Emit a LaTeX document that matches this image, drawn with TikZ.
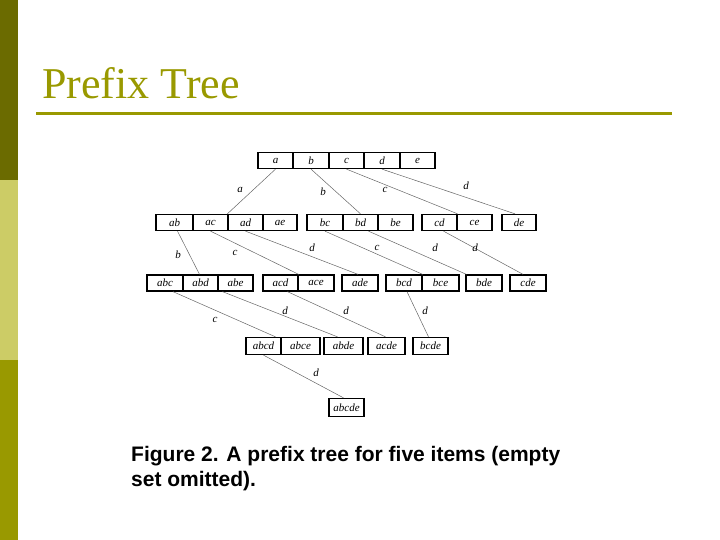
\documentclass[tikz,border=0pt]{standalone}
\usepackage{fontspec}
\newfontfamily\capfont{Liberation Sans}
\newfontfamily\serifx{Liberation Serif}
\usetikzlibrary{calc}
\definecolor{oliveA}{HTML}{6B6B00}
\definecolor{oliveB}{HTML}{CCCC66}
\definecolor{oliveC}{HTML}{999900}
\begin{document}
\begin{tikzpicture}[x=1pt,y=-1pt,
 cell/.style={draw=black,line width=1.3pt,inner sep=0pt,minimum height=16pt,font=\serifx\itshape\fontsize{11}{11}\selectfont},
 edge/.style={draw=black!60,line width=0.5pt},
 lab/.style={font=\serifx\itshape\fontsize{11}{11}\selectfont,inner sep=0pt}]
\useasboundingbox (0,0) rectangle (720,540);
\fill[oliveA] (0,0) rectangle (18,180);
\fill[oliveB] (0,180) rectangle (18,360);
\fill[oliveC] (0,360) rectangle (18,540);
\node[anchor=base west,inner sep=0pt,text=oliveC,font=\serifx\fontsize{44}{44}\selectfont] (title) at (42,99) {Prefix Tree};
\draw[oliveC,line width=3pt] (36,114) -- (672,114);
% level 1
\foreach \n/\l/\r in {a/258/293,b/293/329,c/329/364,d/364/400,e/400/435}
  \node[cell,minimum width={\r-\l}] (\n) at ({(\l+\r)/2},160.5) {\n};
% level 2
\foreach \n/\l/\r in {ab/156/193,ac/193/228,ad/228/263,ae/263/297,bc/307/343,bd/343/378,be/378/413,cd/422/457,ce/457/492,de/502/536}
  \node[cell,minimum width={\r-\l}] (\n) at ({(\l+\r)/2},222.5) {\n};
% level 3
\foreach \n/\l/\r in {abc/147/183,abd/183/218,abe/218/253,acd/263/298,ace/298/334,ade/342/378,bcd/386/422,bce/422/459,bde/466/502,cde/510/546}
  \node[cell,minimum width={\r-\l}] (\n) at ({(\l+\r)/2},283) {\n};
% level 4
\foreach \n/\l/\r in {abcd/246/281,abce/281/320,abde/324/363,acde/368/405,bcde/413/448}
  \node[cell,minimum width={\r-\l},minimum height=17pt] (\n) at ({(\l+\r)/2},346) {\n};
\node[cell,minimum width=35pt,minimum height=18pt] (abcde) at (346.5,407.5) {abcde};
% edges
\draw[edge] (a.south) -- (ad.north west);
\draw[edge] (b.south) -- (bd.north);
\draw[edge] (c.south) -- (cd.north east);
\draw[edge] (d.south) -- ($(de.north)+(-4,0)$);
\draw[edge] ($(ab.south)+(3,0)$) -- ($(abd.north)+(-1,0)$);
\draw[edge] (ac.south) -- (acd.north east);
\draw[edge] (ad.south) -- ($(ade.north)+(-2,0)$);
\draw[edge] (bc.south) -- (bcd.north east);
\draw[edge] ($(bd.south)+(8,0)$) -- ($(bde.north west)+(1,0)$);
\draw[edge] ($(cd.south)+(4,0)$) -- ($(cde.north)+(-5,0)$);
\draw[edge] ($(abc.south)+(8,0)$) -- ($(abcd.north)+(12,0)$);
\draw[edge] ($(abd.south)+(22,0)$) -- ($(abde.north)+(-6,0)$);
\draw[edge] ($(acd.south)+(7,0)$) -- ($(acde.north)+(-1,0)$);
\draw[edge] ($(bcd.south)+(3,0)$) -- ($(bcde.north)+(-2,0)$);
\draw[edge] ($(abcd.south)+(0,0)$) -- ($(abcde.north)+(-3,0)$);
% labels
\node[lab] (la) at (240,190) {a};
\node[lab] (lb) at (323,192) {b};
\node[lab] (lc) at (385,190) {c};
\node[lab] (ld) at (466,186) {d};
\node[lab] (lab2) at (178,255) {b};
\node[lab] (lac) at (235,253) {c};
\node[lab] (lad) at (312,248) {d};
\node[lab] (lbc) at (377,248) {c};
\node[lab] (lbd) at (435,248) {d};
\node[lab] (lcd) at (475,248) {d};
\node[lab] (labc) at (215,320) {c};
\node[lab] (labd) at (285,311) {d};
\node[lab] (lacd) at (346,311) {d};
\node[lab] (lbcd) at (425,311) {d};
\node[lab] (labcd) at (316,373) {d};
% caption
\node[anchor=north west,inner sep=0pt,align=left,font=\capfont\bfseries\fontsize{21}{25}\selectfont] (cap) at (131,446)
 {Figure 2. A prefix tree for five items (empty\\set omitted).};
\end{tikzpicture}
\end{document}
